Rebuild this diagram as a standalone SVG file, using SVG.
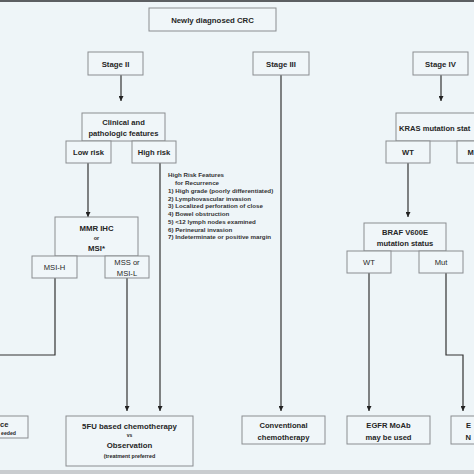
<svg xmlns="http://www.w3.org/2000/svg" width="474" height="474" viewBox="0 0 474 474">
<style>
.box{fill:#f0f6f9;stroke:#8a8d90;stroke-width:1}
.b{font-family:"Liberation Sans",Arial,sans-serif;font-weight:bold;fill:#262626;text-anchor:middle}
.n{font-family:"Liberation Sans",Arial,sans-serif;fill:#262626;text-anchor:middle}
.s{text-anchor:start}
.e{text-anchor:end}
.l{fill:none;stroke:#333;stroke-width:1.2}
.hr{font-family:"Liberation Sans",Arial,sans-serif;font-weight:bold;fill:#333;font-size:6.2px}
</style>
<defs>
<marker id="ah" viewBox="0 0 6 6" refX="6" refY="3" markerWidth="5" markerHeight="5" markerUnits="userSpaceOnUse" orient="auto"><path d="M0,0L6,3L0,6z" fill="#222"/></marker>
</defs>
<rect x="0" y="0" width="474" height="474" fill="#eef5f8"/>
<rect x="0" y="0" width="474" height="2" fill="#5c5f62"/>
<rect x="0" y="470" width="474" height="4" fill="#c9cccf"/>

<g id="connectors">
<path class="l" d="M121,75V101" marker-end="url(#ah)"/>
<path class="l" d="M441,75V101" marker-end="url(#ah)"/>
<path class="l" d="M281,75V411" marker-end="url(#ah)"/>
<path class="l" d="M88,163V217" marker-end="url(#ah)"/>
<path class="l" d="M160,163V411" marker-end="url(#ah)"/>
<path class="l" d="M127,278V411" marker-end="url(#ah)"/>
<path class="l" d="M55,278V355H-2"/>
<path class="l" d="M408,163V217" marker-end="url(#ah)"/>
<path class="l" d="M369,273V411" marker-end="url(#ah)"/>
<path class="l" d="M446,273V355H463V411" marker-end="url(#ah)"/>
</g>

<g id="newly"><rect class="box" x="149" y="8" width="127" height="23"/><text class="b" x="212.5" y="23" font-size="7.8">Newly diagnosed CRC</text></g>
<g id="stage2"><rect class="box" x="88" y="52" width="55" height="23"/><text class="b" x="115.5" y="67" font-size="7.8">Stage II</text></g>
<g id="stage3"><rect class="box" x="253" y="52" width="56" height="23"/><text class="b" x="281" y="67" font-size="7.8">Stage III</text></g>
<g id="stage4"><rect class="box" x="413" y="52" width="55" height="23"/><text class="b" x="440.5" y="67" font-size="7.8">Stage IV</text></g>

<g id="clinical"><rect class="box" x="82" y="113" width="83" height="28"/><text class="b" x="123.5" y="124.5" font-size="7.6">Clinical and</text><text class="b" x="123.5" y="136" font-size="7.6">pathologic features</text></g>
<g id="lowrisk"><rect class="box" x="66" y="141" width="45" height="22"/><text class="b" x="88.5" y="155" font-size="7.6">Low risk</text></g>
<g id="highrisk"><rect class="box" x="132" y="141" width="44" height="22"/><text class="b" x="154" y="155" font-size="7.6">High risk</text></g>

<g id="hrfeatures">
<text class="hr" x="168" y="177">High Risk Features</text>
<text class="hr" x="175" y="185">for Recurrence</text>
<text class="hr" x="168" y="193">1) High grade (poorly differentiated)</text>
<text class="hr" x="168" y="200.7">2) Lymphovascular invasion</text>
<text class="hr" x="168" y="208.4">3) Localized perforation of close</text>
<text class="hr" x="168" y="216.1">4) Bowel obstruction</text>
<text class="hr" x="168" y="223.8">5) &lt;12 lymph nodes examined</text>
<text class="hr" x="168" y="231.5">6) Perineural invasion</text>
<text class="hr" x="168" y="239.2">7) Indeterminate or positive margin</text>
</g>

<g id="mmr"><rect class="box" x="55" y="217" width="83" height="39"/><text class="b" x="96.5" y="231" font-size="7.8">MMR IHC</text><text class="b" x="96.5" y="240" font-size="5.6">or</text><text class="b" x="96.5" y="251" font-size="7.8">MSI*</text></g>
<g id="msih"><rect class="box" x="32" y="256" width="45" height="22"/><text class="n" x="54.5" y="270" font-size="7.6">MSI-H</text></g>
<g id="mss"><rect class="box" x="105" y="256" width="44" height="22"/><text class="n" x="127" y="265" font-size="7.6">MSS or</text><text class="n" x="127" y="276" font-size="7.6">MSI-L</text></g>

<g id="kras"><rect class="box" x="396" y="113" width="90" height="28"/><text class="b s" x="399" y="131" font-size="7.6">KRAS mutation stat</text></g>
<g id="kraswt"><rect class="box" x="386" y="141" width="44" height="22"/><text class="b" x="408" y="155" font-size="7.6">WT</text></g>
<g id="krasmut"><rect class="box" x="457" y="141" width="30" height="22"/><text class="b s" x="467.5" y="155" font-size="7.6">M</text></g>

<g id="braf"><rect class="box" x="364" y="223" width="82" height="28"/><text class="b" x="405" y="235" font-size="7.6">BRAF V600E</text><text class="b" x="405" y="246" font-size="7.6">mutation status</text></g>
<g id="brafwt"><rect class="box" x="347" y="251" width="44" height="22"/><text class="n" x="369" y="265" font-size="7.6">WT</text></g>
<g id="brafmut"><rect class="box" x="419" y="251" width="44" height="22"/><text class="n" x="441" y="265" font-size="7.6">Mut</text></g>

<g id="leftbox"><rect class="box" x="-10" y="416" width="38" height="22"/><text class="b s" x="0" y="427" font-size="7.6">ce</text><text class="b s" x="1" y="434.5" font-size="5.2">eeded</text></g>
<g id="fivefu"><rect class="box" x="66" y="416" width="127" height="50"/><text class="b" x="129.5" y="429" font-size="7.8">5FU based chemotherapy</text><text class="b" x="129.5" y="437" font-size="5">vs</text><text class="b" x="129.5" y="448" font-size="7.8">Observation</text><text class="b" x="129.5" y="458" font-size="5.4">(treatment preferred</text></g>
<g id="conv"><rect class="box" x="242" y="416" width="83" height="28"/><text class="b" x="283.5" y="428" font-size="7.6">Conventional</text><text class="b" x="283.5" y="439.5" font-size="7.6">chemotherapy</text></g>
<g id="egfr"><rect class="box" x="347" y="416" width="83" height="28"/><text class="b" x="388.5" y="428" font-size="7.6">EGFR MoAb</text><text class="b" x="388.5" y="439.5" font-size="7.6">may be used</text></g>
<g id="egfrno"><rect class="box" x="451" y="416" width="40" height="28"/><text class="b s" x="466" y="428" font-size="7.6">E</text><text class="b s" x="465.5" y="439.5" font-size="7.6">N</text></g>
</svg>
